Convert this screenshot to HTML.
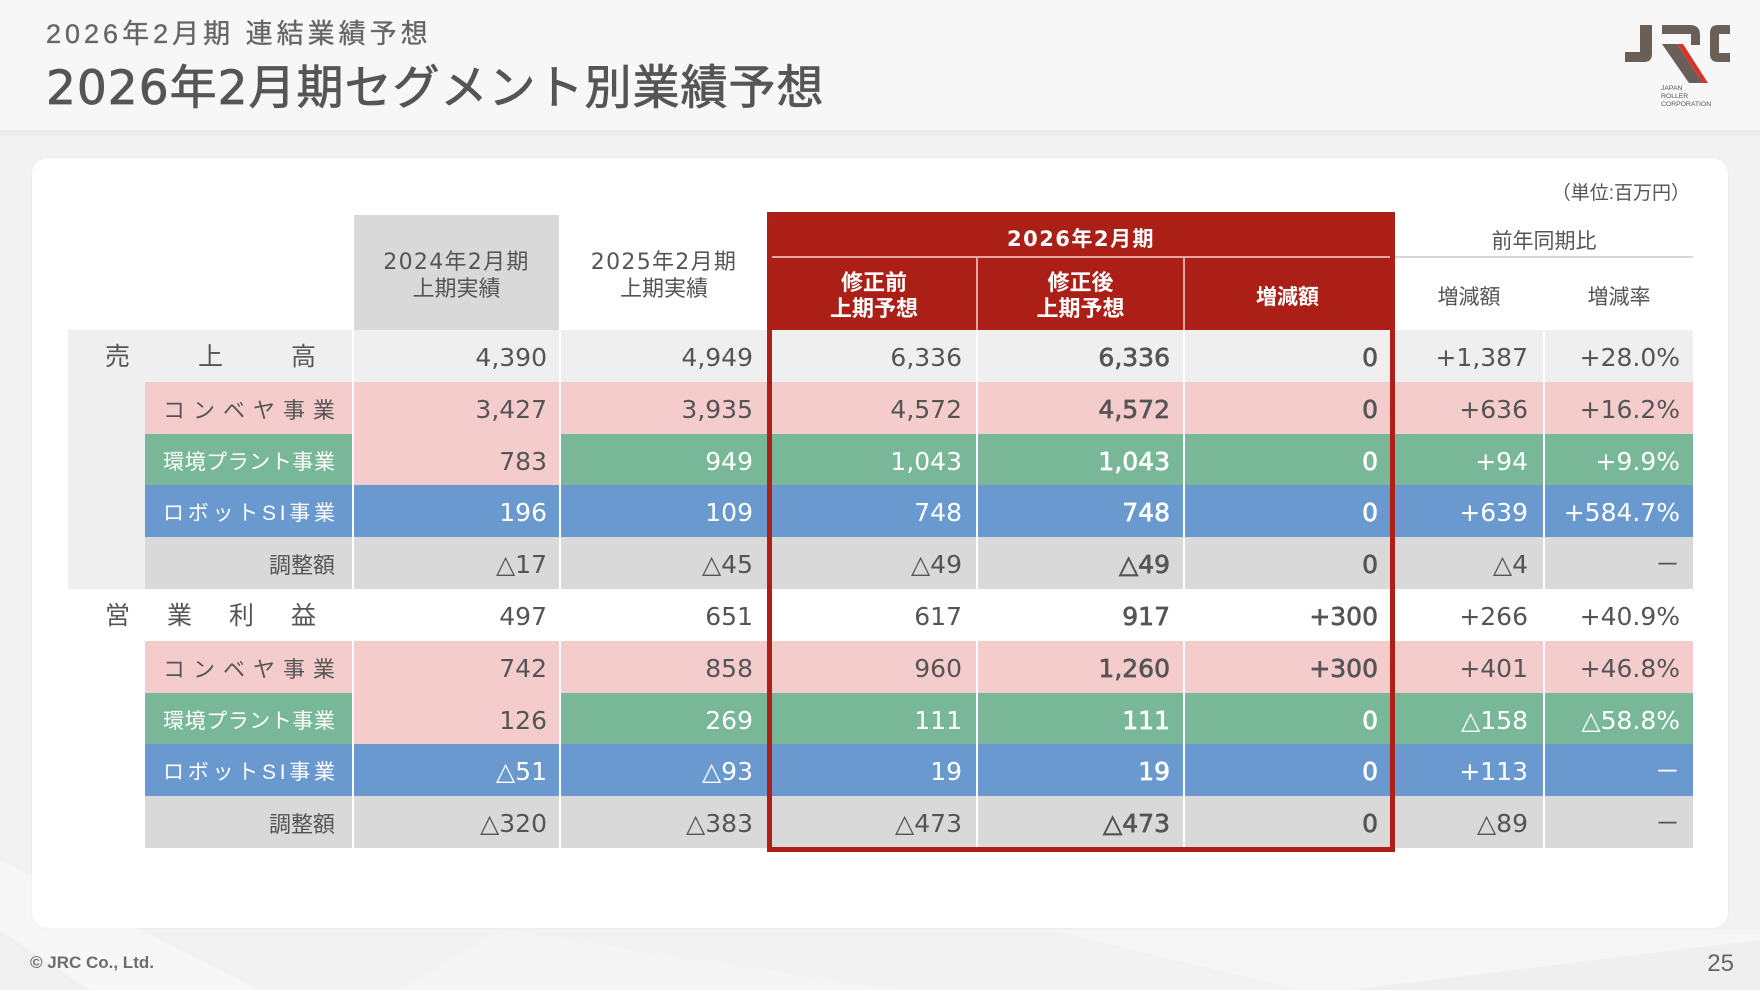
<!DOCTYPE html>
<html><head><meta charset="utf-8">
<style>
*{margin:0;padding:0}
body{width:1760px;height:990px;position:relative;overflow:hidden;background:#f2f2f2;font-family:"Liberation Sans","Noto Sans CJK JP",sans-serif;color:#555}
.a{position:absolute;white-space:nowrap}
.r{position:absolute;left:0;width:1760px;height:51.8px}
.r>div{position:absolute;top:0;height:51.8px;box-sizing:border-box;white-space:nowrap}
.c{text-align:right;font-family:"DejaVu Sans","Noto Sans CJK JP",sans-serif;font-size:25px;line-height:51.8px;padding-top:2px}
.c1{left:354px;width:205px;padding-right:12px}
.c2{left:561px;width:206px;padding-right:14px}
.c3{left:769px;width:207px;padding-right:14px}
.c4{left:978px;width:205px;padding-right:13px}
.c5{left:1185px;width:205px;padding-right:12px}
.c6{left:1395px;width:148px;padding-right:15px}
.c7{left:1545px;width:148px;padding-right:13px}
.b{-webkit-text-stroke:0.7px currentColor}
.lm{left:68px;width:284px;padding:2px 36px 0 37px;display:flex;justify-content:space-between;font-size:25px;line-height:51.8px}
.ls{left:145px;width:207px;padding:3px 17px 0 18px;display:flex;justify-content:space-between;font-size:22px;line-height:51.8px}
.ls.s21{font-size:21px}
.lr{left:145px;width:207px;padding:3px 17px 0 0;text-align:right;font-size:22px;line-height:51.8px}
.g0>div{background:#efefef}
.pk>div{background:#f5cccc}
.gr>div{background:#78b798;color:#fff}
.bl>div{background:#6999cf;color:#fff}
.aj>div{background:#d9d9d9}
.gr>.c1{background:#f5cccc;color:#555}
.hd{font-family:"DejaVu Sans","Noto Sans CJK JP",sans-serif;text-align:center;font-size:22px;line-height:26px}
.hd .k{font-family:"Liberation Sans","Noto Sans CJK JP",sans-serif}
</style></head>
<body>
<!-- background decoration -->
<svg class="a" style="left:0;top:0" width="1760" height="990">
<polygon points="0,860 260,990 0,990" fill="#ffffff" opacity="0.4"/>
<polygon points="0,930 90,990 0,990" fill="#e9e9e9" opacity="0.5"/>
<polygon points="1050,930 1760,930 1760,990 1300,990" fill="#ffffff" opacity="0.3"/>
<polygon points="1350,990 1760,940 1760,990" fill="#e6e6e6" opacity="0.45"/>
<polygon points="500,930 900,990 400,990" fill="#ffffff" opacity="0.25"/>
</svg>
<!-- header band -->
<div class="a" style="left:0;top:0;width:1760px;height:130px;background:#f7f7f7"></div>
<div class="a" style="left:0;top:130px;width:1760px;height:7px;background:linear-gradient(#e8e8e8,#f0f0f0)"></div>

<div class="a" style="left:46px;top:21px;font-size:27px;line-height:1;letter-spacing:4px;color:#666;-webkit-text-stroke:0.35px #666">2026年2月期 連結業績予想</div>
<div class="a" style="left:46px;top:65px;font-size:47px;line-height:1;letter-spacing:1px;color:#555;font-family:'DejaVu Sans','Noto Sans CJK JP',sans-serif;-webkit-text-stroke:0.8px #555">2026年2月期セグメント別業績予想</div>

<!-- logo -->
<svg class="a" style="left:1600px;top:0" width="160" height="130" viewBox="1600 0 160 130">
<path d="M1640,25 H1652 V54 Q1652,62 1644,62 H1625 V52 H1640 Z" fill="#6a5f57"/>
<path d="M1662,25 H1690 Q1700,25 1700,35 V45 H1691 V34 H1662 Z" fill="#6a5f57"/>
<path d="M1662,44 H1677 L1703,83 H1689 Z" fill="#6a5f57"/>
<path d="M1677,44 H1683 L1708,83 H1703 Z" fill="#d8322a"/>
<path d="M1730,25 H1718 Q1710,25 1710,33 V54 Q1710,62 1718,62 H1730 V53 H1719 V34 H1730 Z" fill="#6a5f57"/>
<text x="1661" y="90" font-family="Liberation Sans, sans-serif" font-size="6.8" fill="#555">JAPAN</text>
<text x="1661" y="98" font-family="Liberation Sans, sans-serif" font-size="6.8" fill="#555">ROLLER</text>
<text x="1661" y="106" font-family="Liberation Sans, sans-serif" font-size="6.8" fill="#555">CORPORATION</text>
</svg>

<!-- card -->
<div class="a" style="left:32px;top:158px;width:1696px;height:770px;background:#fff;border-radius:16px;box-shadow:0 0 3px rgba(0,0,0,0.04)"></div>

<!-- unit -->
<div class="a" style="right:70px;top:183px;font-size:19px;line-height:22px;color:#555">（単位:百万円）</div>

<!-- headers -->
<div class="a" style="left:354px;top:215px;width:205px;height:115px;background:#d9d9d9"></div>
<div class="a hd" style="left:354px;top:250px;width:205px;letter-spacing:1.3px">2024年2月期<br><span class="k" style="letter-spacing:0">上期実績</span></div>
<div class="a hd" style="left:561px;top:250px;width:206px;letter-spacing:1.3px">2025年2月期<br><span class="k" style="letter-spacing:0">上期実績</span></div>

<div class="a" style="left:767px;top:212px;width:628px;height:118px;background:#ab1f17"></div>
<div class="a" style="left:772px;top:256px;width:618px;height:1.5px;background:#e2a8a4"></div>
<div class="a" style="left:976px;top:257px;width:1.5px;height:73px;background:#e2a8a4"></div>
<div class="a" style="left:1183px;top:257px;width:1.5px;height:73px;background:#e2a8a4"></div>
<div class="a" style="left:767px;top:229px;width:628px;text-align:center;color:#fff;font-family:'DejaVu Sans','Noto Sans CJK JP',sans-serif;font-weight:bold;font-size:21px;line-height:1;letter-spacing:1.5px">2026年2月期</div>
<div class="a hd" style="left:772px;top:270px;width:204px;color:#fff;font-weight:bold;font-family:'Liberation Sans','Noto Sans CJK JP',sans-serif">修正前<br>上期予想</div>
<div class="a hd" style="left:978px;top:270px;width:205px;color:#fff;font-weight:bold;font-family:'Liberation Sans','Noto Sans CJK JP',sans-serif">修正後<br>上期予想</div>
<div class="a hd" style="left:1185px;top:285px;width:205px;color:#fff;font-weight:bold;font-family:'Liberation Sans','Noto Sans CJK JP',sans-serif;font-size:21px">増減額</div>

<div class="a hd" style="left:1395px;top:229px;width:298px;font-size:21px;font-family:'Liberation Sans','Noto Sans CJK JP',sans-serif">前年同期比</div>
<div class="a" style="left:1395px;top:255.5px;width:298px;height:2px;background:#d6d6d6"></div>
<div class="a hd" style="left:1395px;top:285px;width:148px;font-size:21px;font-family:'Liberation Sans','Noto Sans CJK JP',sans-serif">増減額</div>
<div class="a hd" style="left:1545px;top:285px;width:148px;font-size:21px;font-family:'Liberation Sans','Noto Sans CJK JP',sans-serif">増減率</div>

<!-- left gray block for sales section -->
<div class="a" style="left:68px;top:381.8px;width:77px;height:207.2px;background:#efefef"></div>

<!-- row 0 -->
<div class="r g0" style="top:330px">
<div class="lm"><span>売</span><span>上</span><span>高</span></div>
<div class="c c1">4,390</div><div class="c c2">4,949</div><div class="c c3">6,336</div><div class="c c4 b">6,336</div><div class="c c5 b">0</div><div class="c c6">+1,387</div><div class="c c7">+28.0%</div>
</div>
<!-- row 1 -->
<div class="r pk" style="top:381.8px">
<div class="ls"><span>コ</span><span>ン</span><span>ベ</span><span>ヤ</span><span>事</span><span>業</span></div>
<div class="c c1">3,427</div><div class="c c2">3,935</div><div class="c c3">4,572</div><div class="c c4 b">4,572</div><div class="c c5 b">0</div><div class="c c6">+636</div><div class="c c7">+16.2%</div>
</div>
<!-- row 2 -->
<div class="r gr" style="top:433.6px">
<div class="ls s21"><span>環</span><span>境</span><span>プ</span><span>ラ</span><span>ン</span><span>ト</span><span>事</span><span>業</span></div>
<div class="c c1">783</div><div class="c c2">949</div><div class="c c3">1,043</div><div class="c c4 b">1,043</div><div class="c c5 b">0</div><div class="c c6">+94</div><div class="c c7">+9.9%</div>
</div>
<!-- row 3 -->
<div class="r bl" style="top:485.4px">
<div class="ls s21"><span>ロ</span><span>ボ</span><span>ッ</span><span>ト</span><span>S</span><span>I</span><span>事</span><span>業</span></div>
<div class="c c1">196</div><div class="c c2">109</div><div class="c c3">748</div><div class="c c4 b">748</div><div class="c c5 b">0</div><div class="c c6">+639</div><div class="c c7">+584.7%</div>
</div>
<!-- row 4 -->
<div class="r aj" style="top:537.2px">
<div class="lr">調整額</div>
<div class="c c1">△17</div><div class="c c2">△45</div><div class="c c3">△49</div><div class="c c4 b">△49</div><div class="c c5 b">0</div><div class="c c6">△4</div><div class="c c7">－</div>
</div>
<!-- row 5 -->
<div class="r" style="top:589px">
<div class="lm"><span>営</span><span>業</span><span>利</span><span>益</span></div>
<div class="c c1">497</div><div class="c c2">651</div><div class="c c3">617</div><div class="c c4 b">917</div><div class="c c5 b">+300</div><div class="c c6">+266</div><div class="c c7">+40.9%</div>
</div>
<!-- row 6 -->
<div class="r pk" style="top:640.8px">
<div class="ls"><span>コ</span><span>ン</span><span>ベ</span><span>ヤ</span><span>事</span><span>業</span></div>
<div class="c c1">742</div><div class="c c2">858</div><div class="c c3">960</div><div class="c c4 b">1,260</div><div class="c c5 b">+300</div><div class="c c6">+401</div><div class="c c7">+46.8%</div>
</div>
<!-- row 7 -->
<div class="r gr" style="top:692.6px">
<div class="ls s21"><span>環</span><span>境</span><span>プ</span><span>ラ</span><span>ン</span><span>ト</span><span>事</span><span>業</span></div>
<div class="c c1">126</div><div class="c c2">269</div><div class="c c3">111</div><div class="c c4 b">111</div><div class="c c5 b">0</div><div class="c c6">△158</div><div class="c c7">△58.8%</div>
</div>
<!-- row 8 -->
<div class="r bl" style="top:744.4px">
<div class="ls s21"><span>ロ</span><span>ボ</span><span>ッ</span><span>ト</span><span>S</span><span>I</span><span>事</span><span>業</span></div>
<div class="c c1">△51</div><div class="c c2">△93</div><div class="c c3">19</div><div class="c c4 b">19</div><div class="c c5 b">0</div><div class="c c6">+113</div><div class="c c7">－</div>
</div>
<!-- row 9 -->
<div class="r aj" style="top:796.2px">
<div class="lr">調整額</div>
<div class="c c1">△320</div><div class="c c2">△383</div><div class="c c3">△473</div><div class="c c4 b">△473</div><div class="c c5 b">0</div><div class="c c6">△89</div><div class="c c7">－</div>
</div>

<!-- red frame -->
<div class="a" style="left:767px;top:212px;width:628px;height:640px;box-sizing:border-box;border:5px solid #ad1f17"></div>

<!-- footer -->
<div class="a" style="left:30px;top:954px;font-size:17px;line-height:1;font-weight:bold;color:#6d6d6d">© JRC Co., Ltd.</div>
<div class="a" style="right:26px;top:952px;font-size:24px;line-height:1;color:#666">25</div>
</body></html>
